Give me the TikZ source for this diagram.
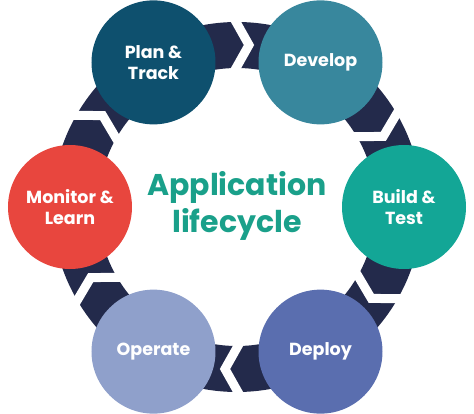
\documentclass[tikz,border=0pt]{standalone}
\usepackage{fontspec}
\setmainfont{Poppins}
\definecolor{navyband}{HTML}{232A4B}
\definecolor{planc}{HTML}{0E506E}
\definecolor{devc}{HTML}{38879D}
\definecolor{buildc}{HTML}{13A696}
\definecolor{deployc}{HTML}{5A6EAF}
\definecolor{operc}{HTML}{8FA0CB}
\definecolor{monc}{HTML}{E8463E}
\definecolor{titlec}{HTML}{1AA08A}
\begin{document}
\begin{tikzpicture}[x=1pt,y=1pt,
  stage/.style={circle, minimum size=124pt, inner sep=0pt, fill=#1, text=white,
    font=\bfseries\fontsize{17.5}{21}\selectfont, align=center},
  chev/.style={draw=white, line width=9pt, miter limit=10},
  titletext/.style={text=titlec, font=\bfseries\fontsize{30}{37}\selectfont, anchor=base, inner sep=0pt}
]
\useasboundingbox (-237pt,-206pt) rectangle (237pt,207pt);
% ring band
\fill[navyband, even odd rule] (0,0) circle (185pt) (0,0) circle (139pt);
% chevron cuts
\foreach \a in {90,30,-30,-90,-150,150} {
  \begin{scope}[shift={(\a:162)}, rotate=\a-90]
    \draw[chev] (-6,32) -- (12,0) -- (-6,-32);
  \end{scope}
}
% stages
\node[stage=planc] (plan) at (120:167) {Plan \&\\Track};
\node[stage=devc] (dev) at (60:167) {Develop};
\node[stage=buildc] (build) at (0:167) {Build \&\\Test};
\node[stage=deployc] (deploy) at (-60:167) {Deploy};
\node[stage=operc] (oper) at (-120:167) {Operate};
\node[stage=monc] (mon) at (180:167) {Monitor \&\\Learn};
% title
\node[titletext] (t1) at (0,12) {Application};
\node[titletext] (t2) at (0,-25) {lifecycle};
\end{tikzpicture}
\end{document}
